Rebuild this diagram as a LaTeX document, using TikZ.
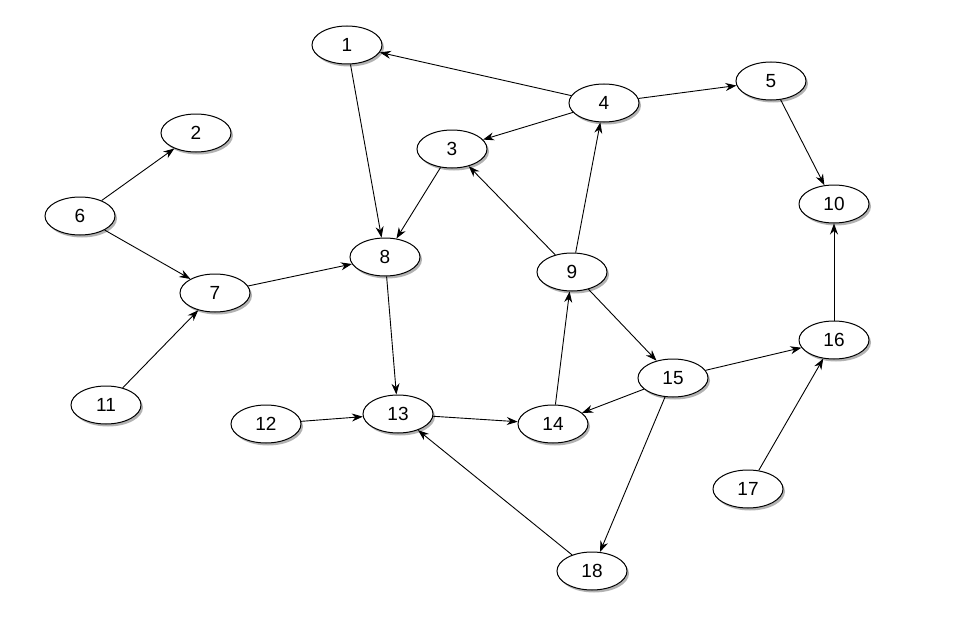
\documentclass[tikz,border=0pt]{standalone}
\usepackage{fontspec}
\setmainfont{Liberation Sans}
\usetikzlibrary{shapes.geometric,shadows,arrows.meta}
\begin{document}
\begin{tikzpicture}[x=1pt,y=-1pt,
  nd/.style={ellipse,draw=black,line width=1pt,fill=white,minimum width=70pt,minimum height=38pt,inner sep=0pt,font=\fontsize{19}{22}\selectfont,drop shadow={shadow xshift=2pt,shadow yshift=-2.5pt,fill=black!60}},
  ed/.style={-{Stealth[length=11pt,width=8pt]},line width=0.9pt}]
\useasboundingbox (0,0) rectangle (956,618);
\node[nd] (n1) at (347,45) {1};
\node[nd] (n2) at (196,133) {2};
\node[nd] (n3) at (452,149) {3};
\node[nd] (n4) at (604,103) {4};
\node[nd] (n5) at (771,81) {5};
\node[nd] (n6) at (80,216) {6};
\node[nd] (n7) at (215,293) {7};
\node[nd] (n8) at (385,257) {8};
\node[nd] (n9) at (572,272) {9};
\node[nd] (n10) at (834,204) {10};
\node[nd] (n11) at (106,405) {11};
\node[nd] (n12) at (266,424) {12};
\node[nd] (n13) at (398,414) {13};
\node[nd] (n14) at (553,424) {14};
\node[nd] (n15) at (673,378) {15};
\node[nd] (n16) at (834,340) {16};
\node[nd] (n17) at (748,489) {17};
\node[nd] (n18) at (592,571) {18};
\foreach \a/\b in {4/1,4/5,4/3,1/8,3/8,6/2,6/7,7/8,11/7,9/3,9/4,9/15,5/10,16/10,8/13,12/13,13/14,14/9,15/14,15/16,15/18,17/16,18/13}
  \draw[ed] (n\a) -- (n\b);
\end{tikzpicture}
\end{document}
